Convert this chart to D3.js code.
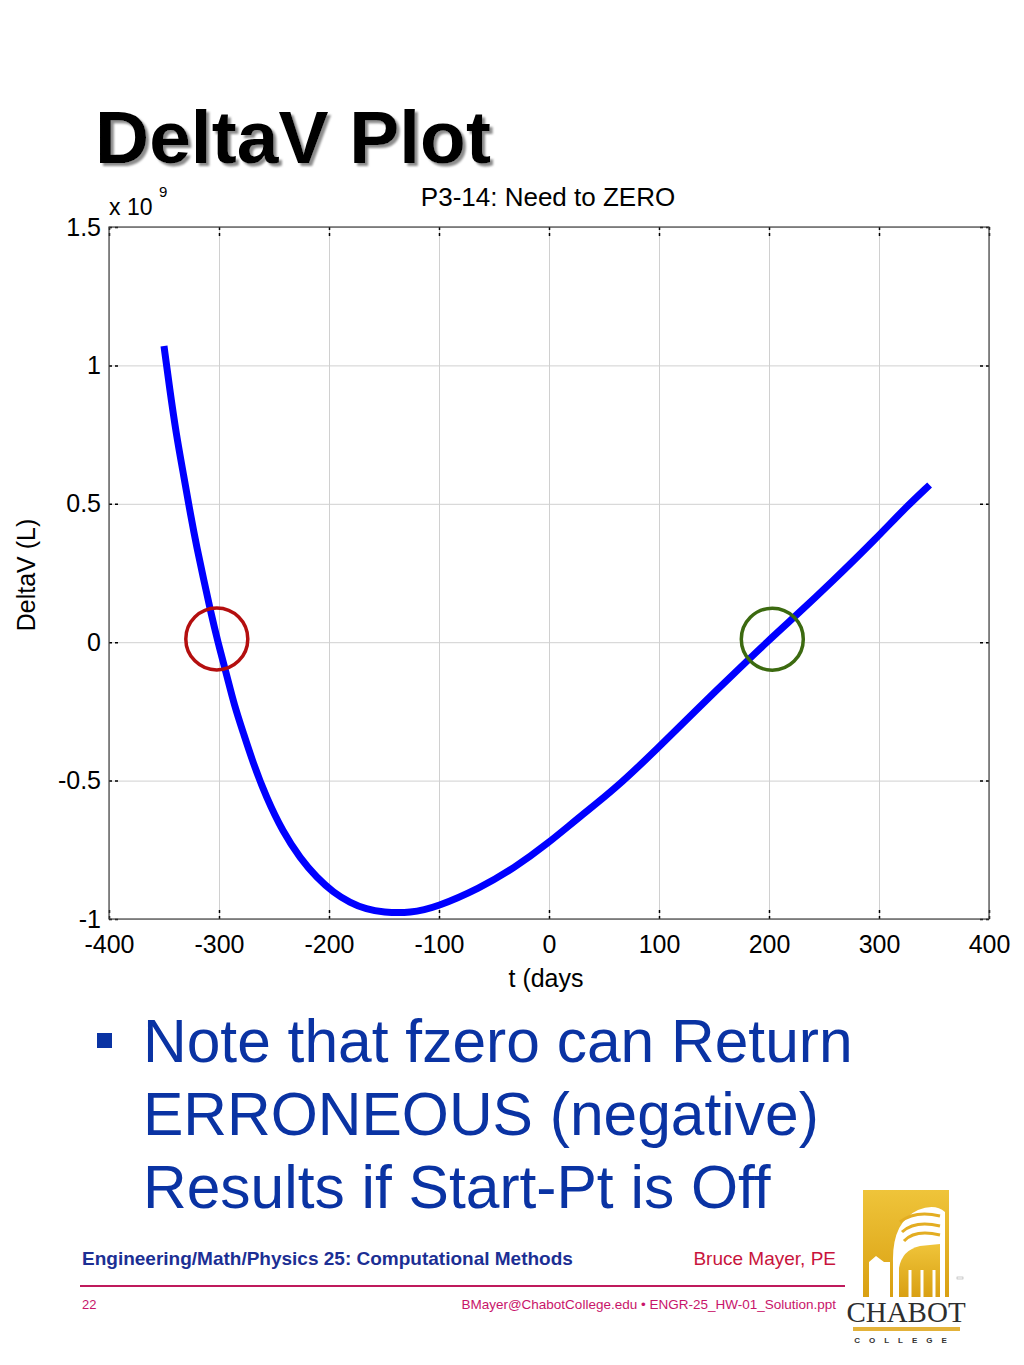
<!DOCTYPE html>
<html>
<head>
<meta charset="utf-8">
<script src="https://cdn.jsdelivr.net/npm/d3@7"></script>
<style>
  body { margin: 0; background: #fff; }
  svg { display: block; font-family: "Liberation Sans", Arial, Helvetica, sans-serif; }
</style>
</head>
<body>
<div id="chart"></div>
<script>
// t (days) and DeltaV (x 10^9 L)
const tDays  = [-350, -345, -339, -332, -326, -320, -314, -308, -301, -293, -286, -278, -269, -257, -242, -226, -211, -196, -181, -166, -151, -126, -102, -63, -32, 0, 28, 59, 99, 134, 165, 200, 225, 256, 299, 322, 346];
const deltaV = [1.07, 0.92, 0.754, 0.60, 0.463, 0.339, 0.228, 0.117, 0.0, -0.118, -0.229, -0.326, -0.436, -0.561, -0.685, -0.782, -0.851, -0.904, -0.941, -0.965, -0.976, -0.979, -0.957, -0.889, -0.817, -0.724, -0.630, -0.534, -0.383, -0.245, -0.125, 0.008, 0.098, 0.213, 0.381, 0.478, 0.568];

// the two zero crossings that are circled
const rootT = [-302, 203];
const rootV = [0.012, 0.011];

const xTicks = [-400, -300, -200, -100, 0, 100, 200, 300, 400];
const yTicks = [-1, -0.5, 0, 0.5, 1, 1.5];
const yTickLabels = ["-1", "-0.5", "0", "0.5", "1", "1.5"];

const bulletLines = ["Note that fzero can Return", "ERRONEOUS (negative)", "Results if Start-Pt is Off"];

let width = 1024, height = 1365,
    plot = ({ top: 227, right: 989, bottom: 919, left: 109 });

const svg = d3.select("#chart")
  .append("svg")
  .attr("width", width)
  .attr("height", height);

const defs = svg.append("defs");
let shadow = defs.append("filter").attr("id", "titleShadow")
  .attr("x", "-5%").attr("y", "-10%").attr("width", "115%").attr("height", "130%");
shadow.append("feGaussianBlur").attr("in", "SourceAlpha").attr("stdDeviation", 1.2).attr("result", "b");
shadow.append("feOffset").attr("in", "b").attr("dx", 3).attr("dy", 3).attr("result", "o");
shadow.append("feFlood").attr("flood-color", "#8c8c8c").attr("result", "c");
shadow.append("feComposite").attr("in", "c").attr("in2", "o").attr("operator", "in").attr("result", "s");
let merge = shadow.append("feMerge");
merge.append("feMergeNode").attr("in", "s");
merge.append("feMergeNode").attr("in", "SourceGraphic");

let gold = defs.append("linearGradient").attr("id", "gold")
  .attr("x1", 0).attr("y1", 0).attr("x2", 0).attr("y2", 1);
gold.append("stop").attr("offset", 0).attr("stop-color", "#efc43a");
gold.append("stop").attr("offset", 1).attr("stop-color", "#d9a012");

// slide title
svg.append("text")
  .attr("x", 95).attr("y", 163)
  .attr("font-size", 75).attr("font-weight", "bold")
  .attr("fill", "#000")
  .attr("filter", "url(#titleShadow)")
  .text("DeltaV Plot");

let x = d3.scaleLinear()
  .domain([-400, 400])
  .range([plot.left, plot.right]);

let y = d3.scaleLinear()
  .domain([-1, 1.5])
  .range([plot.bottom, plot.top]);

let innerW = plot.right - plot.left,
    innerH = plot.bottom - plot.top;

// grid
svg.append("g")
  .attr("transform", `translate(0,${plot.bottom})`)
  .call(d3.axisBottom(x).tickValues(xTicks).tickSize(-innerH).tickFormat(""))
  .call(g => g.select(".domain").remove())
  .call(g => g.selectAll("line").attr("stroke", "#d0d0d0"));

svg.append("g")
  .attr("transform", `translate(${plot.left},0)`)
  .call(d3.axisLeft(y).tickValues(yTicks).tickSize(-innerW).tickFormat(""))
  .call(g => g.select(".domain").remove())
  .call(g => g.selectAll("line").attr("stroke", "#d0d0d0"));

// inward dotted tick marks on all four sides
function ticks(g) {
  g.select(".domain").remove();
  g.selectAll("line").attr("stroke", "#000").attr("stroke-width", 1.5).attr("stroke-dasharray", "3,3");
}
svg.append("g").attr("transform", `translate(0,${plot.bottom})`)
  .call(d3.axisTop(x).tickValues(xTicks).tickSize(9).tickFormat("")).call(ticks);
svg.append("g").attr("transform", `translate(0,${plot.top})`)
  .call(d3.axisBottom(x).tickValues(xTicks).tickSize(9).tickFormat("")).call(ticks);
svg.append("g").attr("transform", `translate(${plot.left},0)`)
  .call(d3.axisRight(y).tickValues(yTicks).tickSize(9).tickFormat("")).call(ticks);
svg.append("g").attr("transform", `translate(${plot.right},0)`)
  .call(d3.axisLeft(y).tickValues(yTicks).tickSize(9).tickFormat("")).call(ticks);

// frame
svg.append("rect")
  .attr("x", plot.left).attr("y", plot.top)
  .attr("width", innerW).attr("height", innerH)
  .attr("fill", "none").attr("stroke", "#444").attr("stroke-width", 1.2);

// tick labels
svg.append("g")
  .attr("transform", `translate(0,${plot.bottom})`)
  .call(d3.axisBottom(x).tickValues(xTicks).tickSize(0).tickPadding(16).tickFormat(d => d))
  .call(g => g.select(".domain").remove())
  .call(g => g.selectAll("text").attr("font-size", 25).attr("fill", "#000")
    .style("font-family", "'Liberation Sans', Arial, sans-serif"));

svg.append("g")
  .attr("transform", `translate(${plot.left},0)`)
  .call(d3.axisLeft(y).tickValues(yTicks).tickSize(0).tickPadding(8)
    .tickFormat((d, i) => yTickLabels[i]))
  .call(g => g.select(".domain").remove())
  .call(g => g.selectAll("text").attr("font-size", 25).attr("fill", "#000")
    .style("font-family", "'Liberation Sans', Arial, sans-serif"));

// exponent
svg.append("text").attr("x", plot.left).attr("y", 215)
  .attr("font-size", 23).text("x 10");
svg.append("text").attr("x", 159).attr("y", 197)
  .attr("font-size", 15).text("9");

// plot title + axis labels
svg.append("text")
  .attr("x", 548).attr("y", 206)
  .attr("text-anchor", "middle").attr("font-size", 26)
  .text("P3-14: Need to ZERO");

svg.append("text")
  .attr("x", 546).attr("y", 987)
  .attr("text-anchor", "middle").attr("font-size", 25)
  .text("t (days");

svg.append("text")
  .attr("transform", "translate(35,575) rotate(-90)")
  .attr("text-anchor", "middle").attr("font-size", 25)
  .text("DeltaV (L)");

// the curve
let line = d3.line()
  .x((d, i) => x(tDays[i]))
  .y(d => y(d))
  .curve(d3.curveBasis);

svg.append("path")
  .datum(deltaV)
  .attr("fill", "none")
  .attr("stroke", "#0000ff")
  .attr("stroke-width", 7)
  .attr("stroke-linejoin", "round")
  .attr("d", line);

// circles round the roots
const rootColors = ["#b40f0f", "#3c6a10"];
svg.selectAll(".root")
  .data(rootT)
  .join("circle")
  .attr("class", "root")
  .attr("cx", d => x(d))
  .attr("cy", (d, i) => y(rootV[i]))
  .attr("r", 31)
  .attr("fill", "none")
  .attr("stroke", (d, i) => rootColors[i])
  .attr("stroke-width", 3.5);

// bullet text
svg.append("rect")
  .attr("x", 97).attr("y", 1033).attr("width", 15).attr("height", 15)
  .attr("fill", "#0a33a3");

svg.append("g").selectAll("text")
  .data(bulletLines)
  .join("text")
  .attr("x", 143)
  .attr("y", (d, i) => 1062 + i * 73)
  .attr("font-size", 60.5)
  .attr("fill", "#0a33a3")
  .text(d => d);

// footer
svg.append("text")
  .attr("x", 82).attr("y", 1265)
  .attr("font-size", 19).attr("font-weight", "bold")
  .attr("fill", "#1c2f94")
  .text("Engineering/Math/Physics 25: Computational Methods");

svg.append("text")
  .attr("x", 836).attr("y", 1265)
  .attr("text-anchor", "end")
  .attr("font-size", 19)
  .attr("fill", "#c8143c")
  .text("Bruce Mayer, PE");

svg.append("line")
  .attr("x1", 80).attr("x2", 845)
  .attr("y1", 1286).attr("y2", 1286)
  .attr("stroke", "#bf1a5c").attr("stroke-width", 2);

svg.append("text")
  .attr("x", 82).attr("y", 1309)
  .attr("font-size", 13)
  .attr("fill", "#c8146a")
  .text("22");

svg.append("text")
  .attr("x", 836).attr("y", 1309)
  .attr("text-anchor", "end")
  .attr("font-size", 13.5)
  .attr("fill", "#c8146a")
  .text("BMayer@ChabotCollege.edu  \u2022 ENGR-25_HW-01_Solution.ppt");

// Chabot College logo (simplified)
let logo = svg.append("g");
logo.append("rect")
  .attr("x", 863).attr("y", 1190).attr("width", 86).attr("height", 107)
  .attr("fill", "url(#gold)");
logo.append("path")
  .attr("d", "M869,1297 L869,1262 L876,1256 L884,1262 L890,1262 L890,1297 Z")
  .attr("fill", "#fff");
logo.append("path")
  .attr("d", "M893,1297 L893,1262 Q892,1222 918,1210 Q935,1203 945,1212 L945,1297 Z")
  .attr("fill", "#fff");
logo.append("path")
  .attr("d", "M899,1297 L899,1268 Q902,1250 920,1246 L940,1244 L940,1297 Z")
  .attr("fill", "url(#gold)");
[1222, 1232, 1241].forEach((yy, i) => {
  logo.append("path")
    .attr("d", `M${900 + i * 2},${yy} Q915,${yy - 12} 940,${yy - 6}`)
    .attr("fill", "none").attr("stroke", "#e3ad22").attr("stroke-width", 3);
});
[910, 922, 934].forEach(xx => {
  logo.append("line")
    .attr("x1", xx).attr("x2", xx).attr("y1", 1270).attr("y2", 1297)
    .attr("stroke", "#fff").attr("stroke-width", 3);
});
logo.append("text")
  .attr("x", 906).attr("y", 1322)
  .attr("text-anchor", "middle")
  .attr("font-family", "'Liberation Serif', 'DejaVu Serif', serif")
  .attr("font-size", 29)
  .attr("fill", "#2e2e2e")
  .text("CHABOT");
logo.append("rect")
  .attr("x", 853).attr("y", 1327).attr("width", 107).attr("height", 4)
  .attr("fill", "#e3b23a");
logo.append("text")
  .attr("x", 905).attr("y", 1343)
  .attr("text-anchor", "middle")
  .attr("font-size", 8).attr("font-weight", "bold")
  .attr("letter-spacing", 9)
  .attr("fill", "#333")
  .text("COLLEGE");
logo.append("rect")
  .attr("x", 957).attr("y", 1277).attr("width", 6).attr("height", 2)
  .attr("fill", "none").attr("stroke", "#aaa").attr("stroke-width", 0.6);
</script>
</body>
</html>
